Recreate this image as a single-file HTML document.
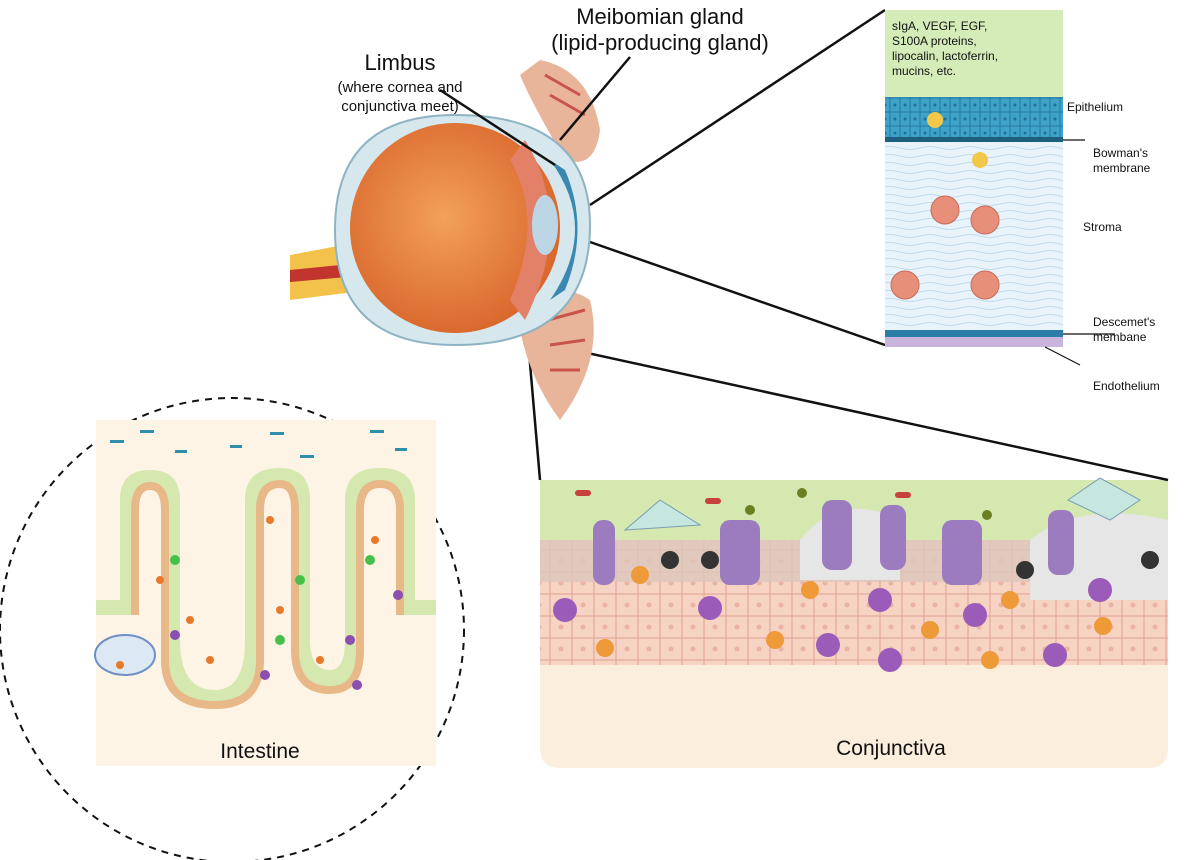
<!DOCTYPE html>
<html><head><meta charset="utf-8"><style>
body{margin:0;background:#fff}
svg{display:block;font-family:"Liberation Sans",sans-serif}
</style></head><body>
<svg width="1200" height="860" viewBox="0 0 1200 860" xmlns="http://www.w3.org/2000/svg">
<defs>
<radialGradient id="eye" cx="0.45" cy="0.45" r="0.6"><stop offset="0" stop-color="#f2a15a"/><stop offset="1" stop-color="#d8642a"/></radialGradient>
<pattern id="cells" width="22" height="22" patternUnits="userSpaceOnUse"><rect width="22" height="22" fill="#f7d3c4" stroke="#e2a898" stroke-width="1.2"/><circle cx="11" cy="11" r="2.5" fill="#eab3a3"/></pattern>
<pattern id="epi" width="10" height="14" patternUnits="userSpaceOnUse"><rect width="10" height="14" fill="#3fa3c9" stroke="#1f6f94" stroke-width="0.8"/><circle cx="5" cy="7" r="1.5" fill="#1f6f94"/></pattern>
<pattern id="strom" width="40" height="8" patternUnits="userSpaceOnUse"><rect width="40" height="8" fill="#e8f3fb"/><path d="M0 4 Q10 1 20 4 T40 4" stroke="#b6d4ea" fill="none" stroke-width="0.8"/></pattern>
</defs>

<circle cx="232" cy="630" r="232" fill="none" stroke="#111" stroke-width="2" stroke-dasharray="7 6"/>
<rect x="96" y="420" width="340" height="346" fill="#fdf4e6"/>
<path d="M96 600 L120 600 L120 500 Q120 470 150 470 Q180 470 180 500 L180 640 Q180 690 215 690 Q245 690 245 640 L245 500 Q245 468 280 468 Q310 468 310 500 L310 640 Q310 670 330 670 Q345 670 345 640 L345 500 Q345 468 380 468 Q415 468 415 500 L415 600 L436 600 L436 615 L400 615 L400 510 Q400 484 380 484 Q360 484 360 510 L360 650 Q360 690 330 690 Q295 690 295 650 L295 510 Q295 484 280 484 Q260 484 260 510 L260 660 Q260 705 215 705 Q165 705 165 660 L165 510 Q165 486 150 486 Q135 486 135 510 L135 615 L96 615 Z" fill="#d4e8b0"/>
<path d="M135 615 L135 510 Q135 486 150 486 Q165 486 165 510 L165 660 Q165 705 215 705 Q260 705 260 660 L260 510 Q260 484 280 484 Q295 484 295 510 L295 650 Q295 690 330 690 Q360 690 360 650 L360 510 Q360 484 380 484 Q400 484 400 510 L400 615" fill="none" stroke="#e8b888" stroke-width="8"/>
<g fill="#2d8fa8"><rect x="110" y="440" width="14" height="3"/><rect x="140" y="430" width="14" height="3"/><rect x="175" y="450" width="12" height="3"/><rect x="270" y="432" width="14" height="3"/><rect x="300" y="455" width="14" height="3"/><rect x="370" y="430" width="14" height="3"/><rect x="395" y="448" width="12" height="3"/><rect x="230" y="445" width="12" height="3"/></g>
<ellipse cx="125" cy="655" rx="30" ry="20" fill="#dde8f5" stroke="#6f8fc8" stroke-width="2"/>
<g fill="#e8792a"><circle cx="160" cy="580" r="4"/><circle cx="190" cy="620" r="4"/><circle cx="210" cy="660" r="4"/><circle cx="280" cy="610" r="4"/><circle cx="320" cy="660" r="4"/><circle cx="270" cy="520" r="4"/><circle cx="375" cy="540" r="4"/><circle cx="120" cy="665" r="4"/></g>
<g fill="#46c04a"><circle cx="175" cy="560" r="5"/><circle cx="300" cy="580" r="5"/><circle cx="280" cy="640" r="5"/><circle cx="370" cy="560" r="5"/></g>
<g fill="#8a4fb0"><circle cx="175" cy="635" r="5"/><circle cx="265" cy="675" r="5"/><circle cx="357" cy="685" r="5"/><circle cx="398" cy="595" r="5"/><circle cx="350" cy="640" r="5"/></g>
<text x="260" y="758" font-size="21" text-anchor="middle" fill="#111">Intestine</text>

<path d="M540 480 H1168 V748 Q1168 768 1148 768 H560 Q540 768 540 748 Z" fill="#fbeedd"/>
<rect x="540" y="480" width="628" height="60" fill="#d4e8b0"/>
<rect x="540" y="540" width="628" height="125" fill="url(#cells)"/>
<rect x="540" y="540" width="628" height="42" fill="#dcc7bc" opacity="0.8"/>
<path d="M800 540 Q840 490 900 520 L900 580 L800 580 Z" fill="#e6e6e6"/>
<path d="M1030 540 Q1080 500 1168 520 L1168 600 L1030 600 Z" fill="#e6e6e6"/>
<g fill="#9c7cbf"><rect x="593" y="520" width="22" height="65" rx="10"/><rect x="720" y="520" width="40" height="65" rx="10"/><rect x="822" y="500" width="30" height="70" rx="10"/><rect x="880" y="505" width="26" height="65" rx="10"/><rect x="942" y="520" width="40" height="65" rx="10"/><rect x="1048" y="510" width="26" height="65" rx="10"/></g>
<path d="M625 530 L660 500 L700 525 Z" fill="#c6e6e0" stroke="#7a9fb0"/>
<path d="M1068 500 L1100 478 L1140 500 L1110 520 Z" fill="#c6e6e0" stroke="#7a9fb0"/>
<g fill="#333"><circle cx="670" cy="560" r="9"/><circle cx="710" cy="560" r="9"/><circle cx="1025" cy="570" r="9"/><circle cx="1150" cy="560" r="9"/></g>
<g fill="#c9413d"><rect x="575" y="490" width="16" height="6" rx="3"/><rect x="705" y="498" width="16" height="6" rx="3"/><rect x="895" y="492" width="16" height="6" rx="3"/></g>
<g fill="#6b7f22"><circle cx="750" cy="510" r="5"/><circle cx="802" cy="493" r="5"/><circle cx="987" cy="515" r="5"/></g>
<g fill="#9b5bb8"><circle cx="565" cy="610" r="12"/><circle cx="710" cy="608" r="12"/><circle cx="880" cy="600" r="12"/><circle cx="975" cy="615" r="12"/><circle cx="1100" cy="590" r="12"/><circle cx="828" cy="645" r="12"/><circle cx="890" cy="660" r="12"/><circle cx="1055" cy="655" r="12"/></g>
<g fill="#ef9a38"><circle cx="640" cy="575" r="9"/><circle cx="605" cy="648" r="9"/><circle cx="775" cy="640" r="9"/><circle cx="810" cy="590" r="9"/><circle cx="930" cy="630" r="9"/><circle cx="990" cy="660" r="9"/><circle cx="1010" cy="600" r="9"/><circle cx="1103" cy="626" r="9"/></g>
<text x="891" y="755" font-size="21" text-anchor="middle" fill="#111">Conjunctiva</text>

<line x1="528" y1="340" x2="540" y2="480" stroke="#111" stroke-width="2.5"/>
<line x1="528" y1="340" x2="1168" y2="480" stroke="#111" stroke-width="2.5"/>
<line x1="590" y1="205" x2="885" y2="10" stroke="#111" stroke-width="2.5"/>
<line x1="590" y1="242" x2="885" y2="345" stroke="#111" stroke-width="2.5"/>

<path d="M290 255 L370 240 L370 290 L290 300 Z" fill="#f2c24a"/>
<path d="M290 270 L370 262 L370 275 L290 282 Z" fill="#c2342e"/>
<path d="M540 60 Q590 70 600 130 Q595 170 565 160 Q530 100 520 75 Z" fill="#e9b59a"/>
<path d="M520 300 Q560 280 590 300 Q605 360 560 420 Q530 380 520 330 Z" fill="#e9b59a"/>
<g stroke="#c9544a" stroke-width="3"><line x1="545" y1="75" x2="580" y2="95"/><line x1="550" y1="95" x2="585" y2="115"/><line x1="548" y1="320" x2="585" y2="310"/><line x1="550" y1="345" x2="585" y2="340"/><line x1="550" y1="370" x2="580" y2="370"/></g>
<path d="M455 115 Q590 115 590 225 Q590 345 455 345 Q335 345 335 230 Q335 115 455 115 Z" fill="#d6e8ee" stroke="#8fb3c2" stroke-width="2"/>
<circle cx="455" cy="228" r="105" fill="url(#eye)"/>
<path d="M525 140 Q575 220 525 320 L510 300 Q545 220 510 160 Z" fill="#e28068"/>
<path d="M550 160 Q600 228 550 300 L565 290 Q590 228 565 170 Z" fill="#3a88b0"/>
<ellipse cx="545" cy="225" rx="13" ry="30" fill="#bcd6e6"/>

<text x="400" y="70" font-size="22" text-anchor="middle" fill="#111">Limbus</text>
<text x="400" y="92" font-size="15" text-anchor="middle" fill="#111">(where cornea and</text>
<text x="400" y="111" font-size="15" text-anchor="middle" fill="#111">conjunctiva meet)</text>
<line x1="440" y1="90" x2="555" y2="165" stroke="#111" stroke-width="2.5"/>
<text x="660" y="24" font-size="22" text-anchor="middle" fill="#111">Meibomian gland</text>
<text x="660" y="50" font-size="22" text-anchor="middle" fill="#111">(lipid-producing gland)</text>
<line x1="630" y1="57" x2="560" y2="140" stroke="#111" stroke-width="2.5"/>

<rect x="885" y="10" width="178" height="88" fill="#d4ecb8"/>
<text font-size="12" fill="#111"><tspan x="892" y="30">sIgA, VEGF, EGF,</tspan><tspan x="892" y="45">S100A proteins,</tspan><tspan x="892" y="60">lipocalin, lactoferrin,</tspan><tspan x="892" y="75">mucins, etc.</tspan></text>
<rect x="885" y="97" width="178" height="40" fill="url(#epi)"/>
<rect x="885" y="137" width="178" height="5" fill="#1e5f80"/>
<rect x="885" y="142" width="178" height="188" fill="url(#strom)"/>
<rect x="885" y="330" width="178" height="7" fill="#2c7ca8"/>
<rect x="885" y="337" width="178" height="10" fill="#c8b4dc"/>
<g fill="#e88f7a" stroke="#c86a5a"><circle cx="945" cy="210" r="14"/><circle cx="985" cy="220" r="14"/><circle cx="905" cy="285" r="14"/><circle cx="985" cy="285" r="14"/></g>
<g fill="#f2c84a"><circle cx="935" cy="120" r="8"/><circle cx="980" cy="160" r="8"/></g>
<g stroke="#111" stroke-width="1.2"><line x1="1063" y1="140" x2="1085" y2="140"/><line x1="1063" y1="334" x2="1115" y2="334"/><line x1="1045" y1="347" x2="1080" y2="365"/></g>
<g font-size="12" fill="#111"><text x="1067" y="111">Epithelium</text><text x="1093" y="157">Bowman's</text><text x="1093" y="172">membrane</text><text x="1083" y="231">Stroma</text><text x="1093" y="326">Descemet's</text><text x="1093" y="341">membane</text><text x="1093" y="390">Endothelium</text></g>
</svg>
</body></html>
